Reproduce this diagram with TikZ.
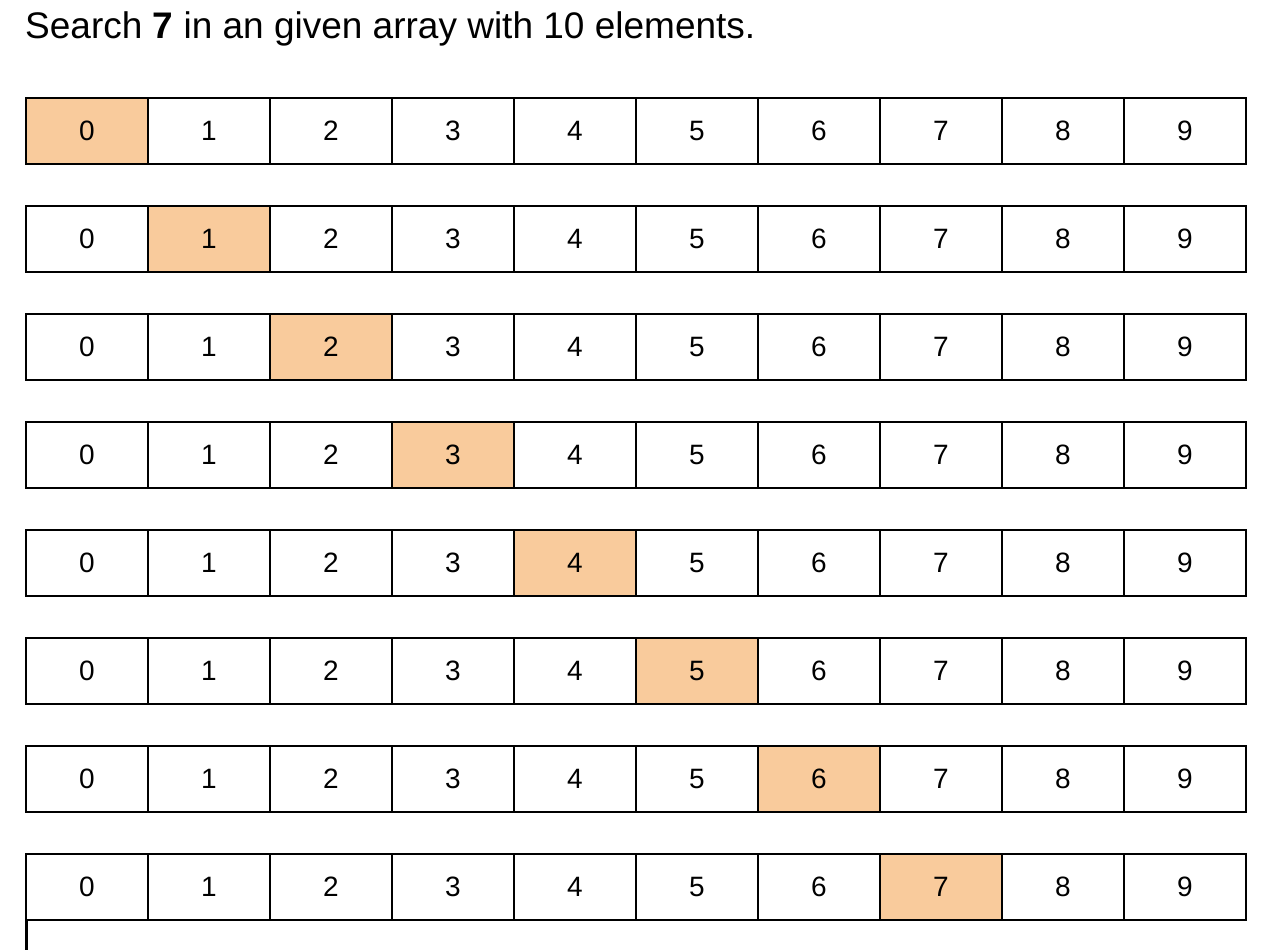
\documentclass[tikz,border=0pt]{standalone}
\usepackage{fontspec}
\setmainfont{Liberation Sans}
\definecolor{peach}{HTML}{F9CB9C}
\begin{document}
\begin{tikzpicture}[x=1pt,y=-1pt,
  cell/.style={draw=black,line width=2pt,minimum width=122pt,minimum height=65.5pt,inner sep=0pt,anchor=north west,font=\fontsize{28}{30}\selectfont},
  hit/.style={cell,fill=peach},
  title/.style={anchor=base west,inner sep=0pt,font=\fontsize{37}{42}\selectfont}]
\useasboundingbox (0,0) rectangle (1286,950);
\node[title] (t) at (25,39) {Search \textbf{7} in an given array with 10 elements.};
\foreach \r in {0,...,7}{
  \foreach \i in {0,...,9}{
    \ifnum\i=\r
      \node[hit] (c-\r-\i) at ({25+122*\i},{97+108*\r}) {\i};
    \else
      \node[cell] (c-\r-\i) at ({25+122*\i},{97+108*\r}) {\i};
    \fi
  }
}
\coordinate (cur) at (26,950);
\draw[line width=3pt] (c-7-0.south west) ++(1,0) -- (cur);
\end{tikzpicture}
\end{document}
